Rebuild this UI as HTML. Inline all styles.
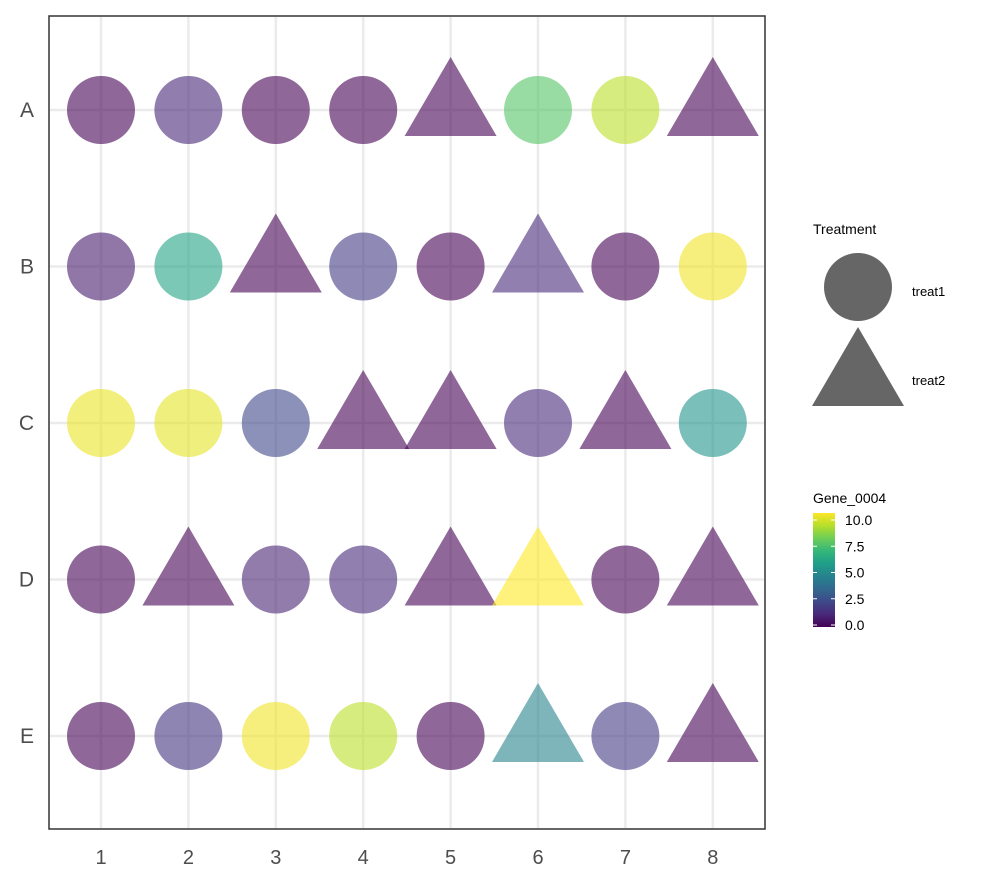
<!DOCTYPE html>
<html><head><meta charset="utf-8"><style>body{margin:0;background:#fff}svg{display:block;font-family:"Liberation Sans",sans-serif}</style></head>
<body>
<svg id="chart" width="984" height="885" xmlns="http://www.w3.org/2000/svg">
<defs><linearGradient id="vg" x1="0" y1="1" x2="0" y2="0">
<stop offset="0" stop-color="#440154"/><stop offset="0.111" stop-color="#482878"/><stop offset="0.222" stop-color="#3e4989"/><stop offset="0.333" stop-color="#31688e"/><stop offset="0.444" stop-color="#26828e"/><stop offset="0.556" stop-color="#1f9e89"/><stop offset="0.667" stop-color="#35b779"/><stop offset="0.778" stop-color="#6ece58"/><stop offset="0.889" stop-color="#b5de2b"/><stop offset="1" stop-color="#fde725"/></linearGradient></defs>
<rect x="49" y="16" width="716" height="813" fill="#fff" stroke="#333" stroke-width="1.5"/>
<g id="grid"></g><g id="marks"></g><g id="axes"></g>
<g>
<text x="813" y="234" font-size="14" fill="#000">Treatment</text>
<circle cx="858" cy="287" r="34" fill="#666"/>
<text x="912" y="296" font-size="13">treat1</text>
<polygon points="858,327 812,406 904,406" fill="#666"/>
<text x="912" y="385" font-size="13">treat2</text>
</g>
<g>
<text x="813" y="503" font-size="14">Gene_0004</text>
<rect x="813" y="513" width="22" height="114" fill="url(#vg)"/>
<g id="cbticks"></g>
</g>
</svg>
<script>
const xCats=["1","2","3","4","5","6","7","8"];
const yCats=["A","B","C","D","E"];
const values=[[0,1.1,0,0,0,7.3,9.0,0],[0.8,5.8,0,1.8,0,1.2,0,9.8],[9.7,9.6,2.2,0,0,1.2,0,5.2],[0,0,1.0,1.2,0,10,0,0],[0,1.5,9.8,9.0,0,4.5,1.8,0]];
const shapes=[["c","c","c","c","t","c","c","t"],["c","c","t","c","c","t","c","c"],["c","c","c","t","t","c","t","c"],["c","t","c","c","t","t","c","t"],["c","c","c","c","c","t","c","t"]];
const cbTicks=[0,2.5,5,7.5,10];
const NS="http://www.w3.org/2000/svg";
const xs=i=>101+i*87.4, ys=j=>110+j*156.5, cbY=v=>625-v*10.5;
const stops=[[68,1,84],[72,40,120],[62,73,137],[49,104,142],[38,130,142],[31,158,137],[53,183,121],[110,206,88],[181,222,43],[253,231,37]];
function vir(v){let t=Math.max(0,Math.min(1,v/10))*9,i=Math.min(8,Math.floor(t)),f=t-i;return `rgb(${stops[i].map((c,k)=>Math.round(c+(stops[i+1][k]-c)*f)).join(',')})`;}
function mk(t,a,p){const e=document.createElementNS(NS,t);for(const k in a)e.setAttribute(k,a[k]);(p||document.getElementById('chart')).appendChild(e);return e;}
const g=document.getElementById('grid'),m=document.getElementById('marks'),ax=document.getElementById('axes');
xCats.forEach((c,i)=>{const l=mk('line',{x1:xs(i),x2:xs(i),y1:17,y2:828,stroke:'#ebebeb','stroke-width':2.5},g);

const t=mk('text',{x:xs(i),y:864,'text-anchor':'middle','font-size':20,fill:'#4d4d4d'},ax);t.textContent=c;
});
yCats.forEach((c,j)=>{const l=mk('line',{x1:50,x2:764,y1:ys(j),y2:ys(j),stroke:'#ebebeb','stroke-width':2.5},g);

const t=mk('text',{x:34,y:ys(j)+7,'text-anchor':'end','font-size':21,fill:'#4d4d4d'},ax);t.textContent=c;
});
yCats.forEach((r,j)=>xCats.forEach((c,i)=>{const x=xs(i),y=ys(j),col=vir(values[j][i]);let e;
if(shapes[j][i]==='c')e=mk('circle',{cx:x,cy:y,r:34,fill:col,'fill-opacity':0.6},m);
else e=mk('polygon',{points:`${x},${y-53} ${x-46},${y+26} ${x+46},${y+26}`,fill:col,'fill-opacity':0.6},m);

}));
const cb=document.getElementById('cbticks');
cbTicks.forEach(v=>{const y=cbY(v);mk('line',{x1:813,x2:817,y1:y,y2:y,stroke:'#fff'},cb);mk('line',{x1:831,x2:835,y1:y,y2:y,stroke:'#fff'},cb);
const t=mk('text',{x:845,y:y+5,'font-size':14},cb);t.textContent=v.toFixed(1);
});
</script>
</body></html>
